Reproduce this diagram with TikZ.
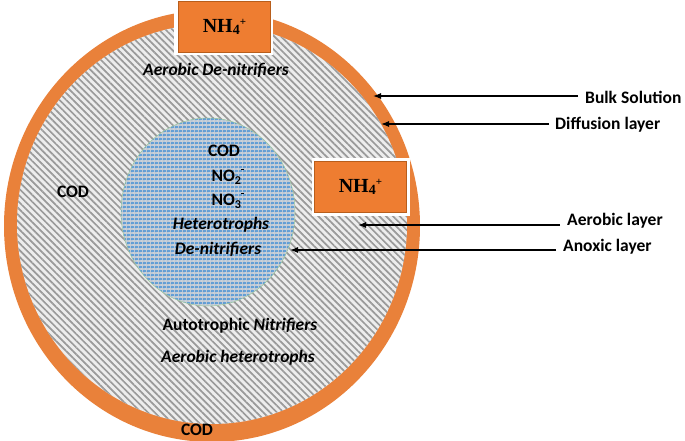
\documentclass[tikz,border=0pt]{standalone}
\usepackage{fontspec}
\setmainfont{Carlito}
\newfontfamily\timesf{Liberation Serif}
\usetikzlibrary{patterns.meta,arrows.meta}
\definecolor{bandorange}{HTML}{E9813A}
\definecolor{boxorange}{HTML}{EE7D31}
\definecolor{boxedge}{HTML}{B85E1C}
\definecolor{hatchbg}{HTML}{EDEDED}
\definecolor{hatchline}{HTML}{9A9A9A}
\definecolor{dotbg}{HTML}{C8CED6}
\definecolor{dotblue}{HTML}{5B9BD5}
\pgfdeclarepattern{
  name=bluedots,
  type=colored,
  bottom left={\pgfpoint{0pt}{0pt}},
  top right={\pgfpoint{4.4pt}{4.4pt}},
  tile size={\pgfpoint{4.4pt}{4.4pt}},
  code={
    \pgfsetfillcolor{dotblue}
    \pgfpathcircle{\pgfpoint{2.2pt}{2.2pt}}{1.6pt}
    \pgfusepath{fill}
  }
}
\tikzset{
  lbl/.style={font=\bfseries\fontsize{17.5}{20}\selectfont, inner sep=1pt},
  txt/.style={font=\bfseries\fontsize{17.5}{20}\selectfont, inner sep=1pt},
  itxt/.style={font=\bfseries\itshape\fontsize{17.5}{20}\selectfont, inner sep=1pt},
  nhbox/.style={draw=boxedge, line width=0.8pt, fill=boxorange, inner sep=0pt,
    font=\timesf\bfseries\fontsize{20}{22}\selectfont},
  pointer/.style={-{Latex[length=8pt,width=6pt]}, line width=1.2pt, black},
}
\newcommand{\nhfour}{NH\raisebox{-0.25ex}{\fontsize{14}{14}\selectfont 4}\raisebox{0.75ex}{\fontsize{11}{11}\selectfont +}}
\newcommand{\nox}[1]{NO\raisebox{-0.35ex}{\fontsize{12}{12}\selectfont #1}\kern0.5pt\rule[1.35ex]{3pt}{1pt}}
\begin{document}
\begin{tikzpicture}[x=1pt,y=-1pt]
\useasboundingbox (0,0) rectangle (685,441);
\fill[white] (0,0) rectangle (685,441);
% outer orange band
\fill[bandorange] (212,226) ellipse [x radius=208pt, y radius=216pt];
% hatched aerobic layer
\fill[hatchbg] (212,224) ellipse [x radius=195pt, y radius=200pt];
\fill[pattern={Lines[angle=-45,distance=4.8pt,line width=1.7pt]}, pattern color=hatchline]
  (212,224) ellipse [x radius=195pt, y radius=200pt];
% anoxic core
\fill[dotbg] (208,212) ellipse [x radius=87pt, y radius=94pt];
\fill[pattern=bluedots] (208,212) ellipse [x radius=87pt, y radius=94pt];
\draw[color=green!30!gray!60, line width=0.5pt] (208,212) ellipse [x radius=87pt, y radius=94pt];
% NH4 boxes
\fill[white] (174,-2) rectangle (273,55);
\node[nhbox, minimum width=92pt, minimum height=51pt, anchor=north west] (nh1) at (178,1) {\nhfour};
\fill[white] (312,158) rectangle (410,216);
\node[nhbox, minimum width=92pt, minimum height=51pt, anchor=north west] (nh2) at (314,161) {\nhfour};
% texts
\node[itxt] (aden) at (216,70) {Aerobic De-nitrifiers};
\node[txt] (cod1) at (224,151) {COD};
\node[txt] (no2) at (228,177) {\nox{2}};
\node[txt] (no3) at (228,201) {\nox{3}};
\node[itxt] (het) at (221,225) {Heterotrophs};
\node[itxt] (den) at (218,249) {De-nitrifiers};
\node[txt] (codl) at (73,192) {COD};
\node[txt] (auto) at (240,326) {Autotrophic \textit{Nitrifiers}};
\node[itxt] (aeh) at (238,358) {Aerobic heterotrophs};
\node[txt] (codb) at (197,430) {COD};
% labels and pointers
\node[lbl, anchor=west] (bulk) at (584,97) {Bulk Solution};
\node[lbl, anchor=west] (diff) at (554,125) {Diffusion layer};
\node[lbl, anchor=west] (aer) at (566,221) {Aerobic layer};
\node[lbl, anchor=west] (anox) at (562,247) {Anoxic layer};
\coordinate (pb) at (373,96);
\coordinate (pd) at (381,124);
\coordinate (pa) at (358,225);
\coordinate (pn) at (290,250);
\draw[pointer] (bulk.west) ++(-6,-1) -- (pb);
\draw[pointer] (diff.west) ++(-5,-1) -- (pd);
\draw[pointer] (aer.west) ++(-6,4) -- (pa);
\draw[pointer] (anox.west) ++(-6,3) -- (pn);
\end{tikzpicture}
\end{document}
